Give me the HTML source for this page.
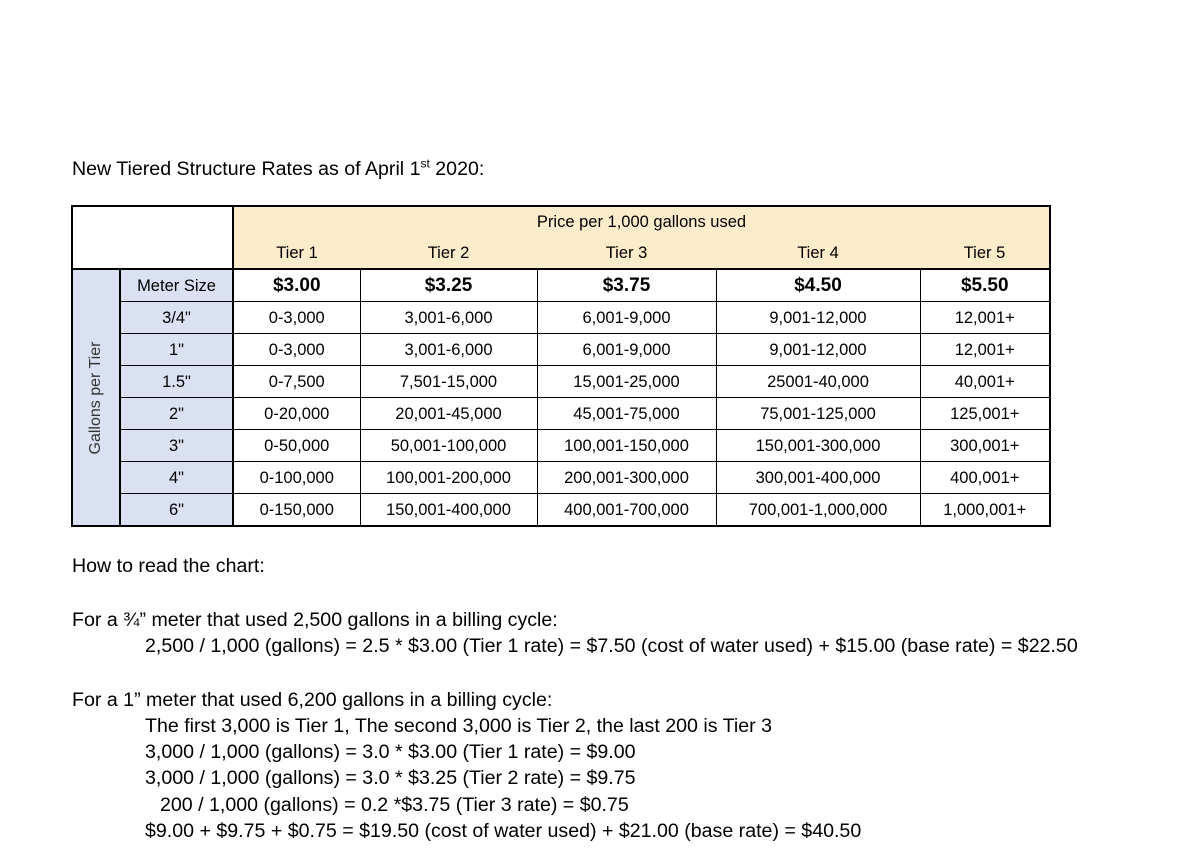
<!DOCTYPE html>
<html><head><meta charset="utf-8"><style>
body{margin:0;width:1200px;height:865px;background:#fff;position:relative;font-family:"Liberation Sans",sans-serif;color:#000;overflow:hidden}
.t{position:absolute;white-space:nowrap;font-size:19.6px;line-height:22px}
table{position:absolute;left:71px;top:205px;border-collapse:collapse;border:2.5px solid #000;font-size:16.5px;line-height:18px}
td{border:1px solid #000;text-align:center;padding:0;height:31px}
.h{background:#fdeccb;border:none}
.b{background:#d9e1f2}
</style></head><body>
<div class="t" style="left:72px;top:158px">New Tiered Structure Rates as of April 1<sup style="font-size:12px;line-height:0">st</sup> 2020:</div>
<table>
<colgroup><col style="width:48px"><col style="width:113px"><col style="width:127px"><col style="width:177px"><col style="width:179px"><col style="width:204px"><col style="width:130px"></colgroup>
<tr><td colspan="2" rowspan="2" style="border-right:2.5px solid #000;border-bottom:2.5px solid #000"></td><td colspan="5" class="h" style="height:30px;vertical-align:middle">Price per 1,000 gallons used</td></tr>
<tr style="border-bottom:2.5px solid #000"><td class="h" style="height:25px">Tier 1</td><td class="h">Tier 2</td><td class="h">Tier 3</td><td class="h">Tier 4</td><td class="h">Tier 5</td></tr>
<tr style="font-weight:bold;font-size:19px"><td rowspan="8" class="b" style="border-right:2.5px solid #000;position:relative"><div style="position:absolute;left:50%;top:50%;transform:translate(-50%,-50%) rotate(-90deg);white-space:nowrap;font-size:16px;font-weight:normal;color:#333">Gallons per Tier</div></td><td class="b" style="font-weight:normal;font-size:16.5px;border-right:2.5px solid #000;height:31px">Meter Size</td><td>$3.00</td><td>$3.25</td><td>$3.75</td><td>$4.50</td><td>$5.50</td></tr>
<tr><td class="b" style="border-right:2.5px solid #000">3/4"</td><td>0-3,000</td><td>3,001-6,000</td><td>6,001-9,000</td><td>9,001-12,000</td><td>12,001+</td></tr>
<tr><td class="b" style="border-right:2.5px solid #000">1"</td><td>0-3,000</td><td>3,001-6,000</td><td>6,001-9,000</td><td>9,001-12,000</td><td>12,001+</td></tr>
<tr><td class="b" style="border-right:2.5px solid #000">1.5"</td><td>0-7,500</td><td>7,501-15,000</td><td>15,001-25,000</td><td>25001-40,000</td><td>40,001+</td></tr>
<tr><td class="b" style="border-right:2.5px solid #000">2"</td><td>0-20,000</td><td>20,001-45,000</td><td>45,001-75,000</td><td>75,001-125,000</td><td>125,001+</td></tr>
<tr><td class="b" style="border-right:2.5px solid #000">3"</td><td>0-50,000</td><td>50,001-100,000</td><td>100,001-150,000</td><td>150,001-300,000</td><td>300,001+</td></tr>
<tr><td class="b" style="border-right:2.5px solid #000">4"</td><td>0-100,000</td><td>100,001-200,000</td><td>200,001-300,000</td><td>300,001-400,000</td><td>400,001+</td></tr>
<tr><td class="b" style="border-right:2.5px solid #000">6"</td><td>0-150,000</td><td>150,001-400,000</td><td>400,001-700,000</td><td>700,001-1,000,000</td><td>1,000,001+</td></tr>
</table>
<div class="t" style="left:72px;top:555px">How to read the chart:</div>
<div class="t" style="left:72px;top:609px">For a ¾” meter that used 2,500 gallons in a billing cycle:</div>
<div class="t" style="left:145px;top:635px">2,500 / 1,000 (gallons) = 2.5 * $3.00 (Tier 1 rate) = $7.50 (cost of water used) + $15.00 (base rate) = $22.50</div>
<div class="t" style="left:72px;top:689px">For a 1” meter that used 6,200 gallons in a billing cycle:</div>
<div class="t" style="left:145px;top:715px">The first 3,000 is Tier 1, The second 3,000 is Tier 2, the last 200 is Tier 3</div>
<div class="t" style="left:145px;top:741px">3,000 / 1,000 (gallons) = 3.0 * $3.00 (Tier 1 rate) = $9.00</div>
<div class="t" style="left:145px;top:767px">3,000 / 1,000 (gallons) = 3.0 * $3.25 (Tier 2 rate) = $9.75</div>
<div class="t" style="left:160px;top:794px">200 / 1,000 (gallons) = 0.2 *$3.75 (Tier 3 rate) = $0.75</div>
<div class="t" style="left:145px;top:820px">$9.00 + $9.75 + $0.75 = $19.50 (cost of water used) + $21.00 (base rate) = $40.50</div>
</body></html>
